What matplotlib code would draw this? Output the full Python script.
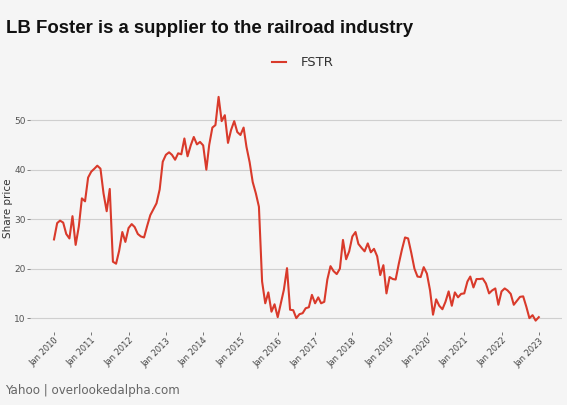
import pandas as pd
import matplotlib
matplotlib.use("Agg")
from matplotlib import pyplot as plt
import matplotlib.dates as mdates

# Monthly share price of FSTR, Jan 2010 - Jan 2023
price_2010 = [25.9, 29.2, 29.7, 29.3, 27.0, 26.1, 30.6, 24.8, 28.5, 34.2, 33.6, 38.4]
price_2011 = [39.6, 40.2, 40.8, 40.2, 35.2, 31.6, 36.1, 21.4, 21.0, 23.6, 27.4, 25.4]
price_2012 = [28.2, 29.0, 28.4, 27.0, 26.5, 26.3, 28.6, 30.8, 32.0, 33.2, 36.0, 41.6]
price_2013 = [43.0, 43.5, 43.0, 42.0, 43.3, 43.1, 46.3, 42.7, 44.9, 46.6, 45.1, 45.6]
price_2014 = [44.9, 40.0, 45.0, 48.5, 49.0, 54.7, 49.8, 51.0, 45.4, 48.0, 49.8, 47.6]
price_2015 = [47.0, 48.5, 44.6, 41.5, 37.5, 35.2, 32.5, 17.4, 13.0, 15.2, 11.3, 12.8]
price_2016 = [10.2, 13.0, 15.7, 20.1, 11.7, 11.6, 10.0, 10.8, 11.0, 12.0, 12.2, 14.7]
price_2017 = [13.0, 14.2, 13.0, 13.3, 17.8, 20.5, 19.5, 18.9, 20.0, 25.8, 21.9, 23.5]
price_2018 = [26.5, 27.4, 25.0, 24.2, 23.5, 25.1, 23.3, 24.0, 22.5, 18.7, 20.7, 15.0]
price_2019 = [18.3, 17.9, 17.8, 21.0, 23.8, 26.3, 26.1, 23.2, 20.0, 18.4, 18.3, 20.3]
price_2020 = [19.0, 15.6, 10.7, 13.8, 12.5, 11.8, 13.3, 15.4, 12.5, 15.2, 14.2, 14.9]
price_2021 = [15.0, 17.4, 18.4, 16.2, 17.9, 17.9, 18.0, 17.0, 15.0, 15.6, 16.0, 12.7]
price_2022 = [15.4, 16.0, 15.6, 14.9, 12.7, 13.5, 14.3, 14.4, 12.3, 10.0, 10.6, 9.5]
price_2023 = [10.2]

prices = (price_2010 + price_2011 + price_2012 + price_2013 + price_2014 + price_2015
          + price_2016 + price_2017 + price_2018 + price_2019 + price_2020 + price_2021
          + price_2022 + price_2023)
dates = pd.date_range("2010-01-01", periods=len(prices), freq="MS")
tick_years = list(range(2010, 2024))

bg = "#f5f5f5"
fig = plt.figure(figsize=(5.67, 4.05), dpi=100, facecolor=bg)
ax = fig.add_axes([30 / 567, 1 - 332 / 405, (562 - 30) / 567, (332 - 85) / 405])
ax.set_facecolor(bg)

ax.plot(dates, prices, color="#d93a2b", linewidth=1.5, label="FSTR")

# Axis limits so the data sits where it does in the original
x0 = mdates.date2num(pd.Timestamp("2010-01-01"))
x1 = mdates.date2num(pd.Timestamp("2023-01-01"))
px_per_day = (538.8 - 54) / (x1 - x0)
ax.set_xlim(x0 - (54 - 30) / px_per_day, x1 + (562 - 538.8) / px_per_day)
ax.set_ylim(7.2, 57.1)

ax.set_xticks([pd.Timestamp(f"{y}-01-01") for y in tick_years])
ax.xaxis.set_major_formatter(mdates.DateFormatter("%b %Y"))
ax.set_yticks([10, 20, 30, 40, 50])
ax.tick_params(axis="x", labelrotation=45, labelsize=6, colors="#444444", length=2, width=0.5, pad=1)
ax.tick_params(axis="y", labelsize=6.5, colors="#555555", length=2, width=0.5, pad=1)
for lab in ax.get_xticklabels():
    lab.set_ha("right")
    lab.set_rotation_mode("anchor")

ax.grid(axis="y", color="#cfcfcf", linewidth=0.8)
ax.set_axisbelow(True)
for s in ax.spines.values():
    s.set_visible(False)

ax.set_ylabel("Share price", fontsize=7.5, color="#333333", labelpad=1)

fig.text(6 / 567, 1 - 33 / 405, "LB Foster is a supplier to the railroad industry",
         fontsize=13.4, fontweight="bold", family="Liberation Sans", color="#111111")
fig.legend(loc="center", bbox_to_anchor=(303 / 567, 1 - 63 / 405), frameon=False,
           fontsize=9.5, handlelength=1.0, handletextpad=1.15, labelcolor="#333333")
fig.text(5 / 567, 1 - 394 / 405, "Yahoo | overlookedalpha.com", fontsize=8.6, color="#666666")

fig.savefig("out.png", dpi=100, facecolor=bg)
